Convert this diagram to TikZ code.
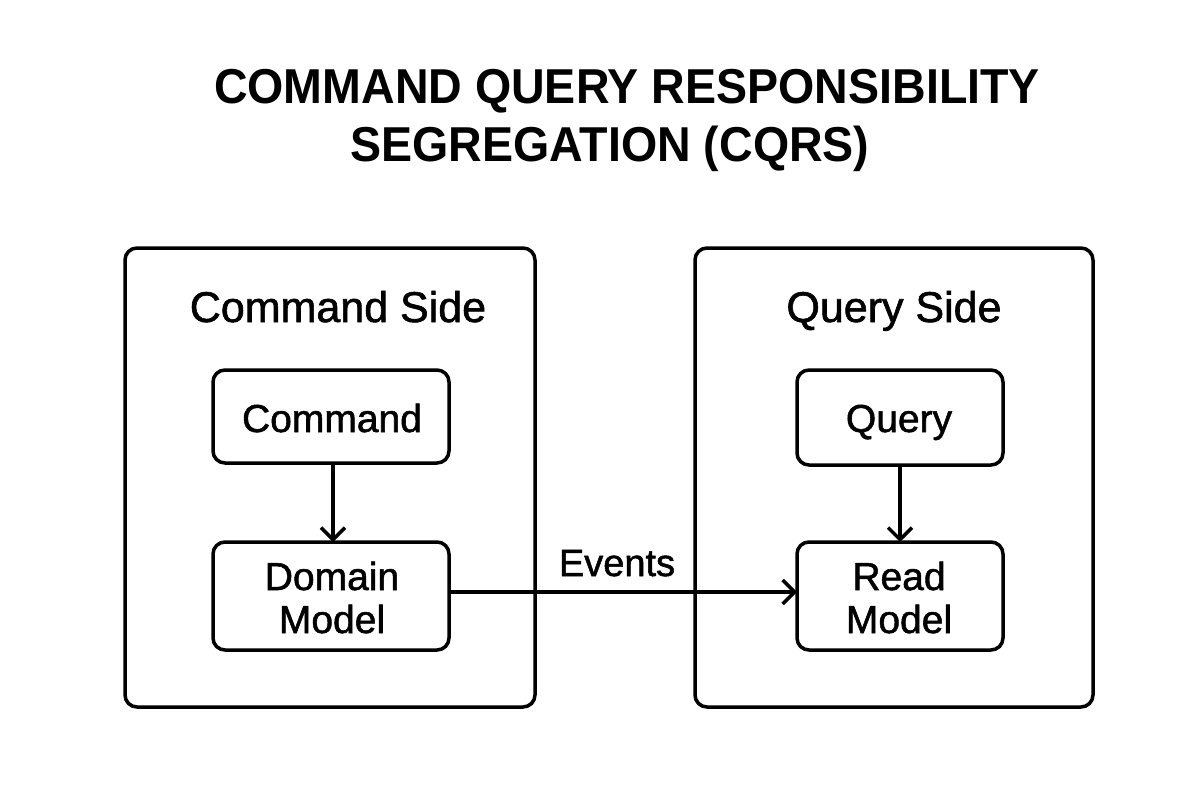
\documentclass[tikz,border=0pt]{standalone}
\usepackage{fontspec}
\setmainfont{Liberation Sans}
\newfontfamily\medfont[FakeBold=1.4]{Liberation Sans}
\usetikzlibrary{arrows.meta}
\begin{document}
\begin{tikzpicture}[x=1pt,y=-1pt,
  outer/.style={draw, line width=3.5pt, rounded corners=12pt},
  inner/.style={draw, line width=3.5pt, rounded corners=12pt},
  lbl/.style={inner sep=0pt, align=center, anchor=base},
  conn/.style={line width=3.5pt, -{Straight Barb[length=12pt,width=24pt,line width=3.5pt]}}]
\useasboundingbox (0,0) rectangle (1200,800);
\node[lbl, font=\fontsize{49}{52}\selectfont\bfseries] (t1) at (627,103) {\scalebox{0.95}[1]{COMMAND QUERY RESPONSIBILITY}};
\node[lbl, font=\fontsize{49}{52}\selectfont\bfseries] (t2) at (610,161) {\scalebox{0.95}[1]{SEGREGATION (CQRS)}};
\draw[outer] (125,248) rectangle (535,707);
\draw[outer] (695,248) rectangle (1093,707);
\node[lbl, font=\medfont\fontsize{43}{50}\selectfont] (cs) at (338,322) {Command Side};
\node[lbl, font=\medfont\fontsize{43}{50}\selectfont] (qs) at (894,322) {Query Side};
\draw[inner] (213,370) rectangle (449,463);
\node[lbl, font=\medfont\fontsize{39}{44}\selectfont] (cmd) at (332,432) {Command};
\draw[inner] (213,542) rectangle (449,650);
\node[lbl, font=\medfont\fontsize{39}{42}\selectfont] (dm) at (332,590) {Domain};
\node[lbl, font=\medfont\fontsize{39}{42}\selectfont] (dm2) at (332,633) {Model};
\draw[inner] (797,370) rectangle (1003,465);
\node[lbl, font=\medfont\fontsize{39}{44}\selectfont] (q) at (899,432) {Query};
\draw[inner] (797,542) rectangle (1003,650);
\node[lbl, font=\medfont\fontsize{39}{42}\selectfont] (rm) at (899,590) {Read};
\node[lbl, font=\medfont\fontsize{39}{42}\selectfont] (rm2) at (899,633) {Model};
\coordinate (cmdb) at (333,463);
\coordinate (dmt) at (333,542);
\coordinate (qb) at (900,465);
\coordinate (rmt) at (900,542);
\coordinate (dmr) at (449,592);
\coordinate (rml) at (797,592);
\draw[conn] (cmdb) -- (dmt);
\draw[conn] (qb) -- (rmt);
\draw[conn] (dmr) -- (rml);
\node[lbl, font=\medfont\fontsize{38}{44}\selectfont] (ev) at (617,576) {Events};
\end{tikzpicture}
\end{document}
